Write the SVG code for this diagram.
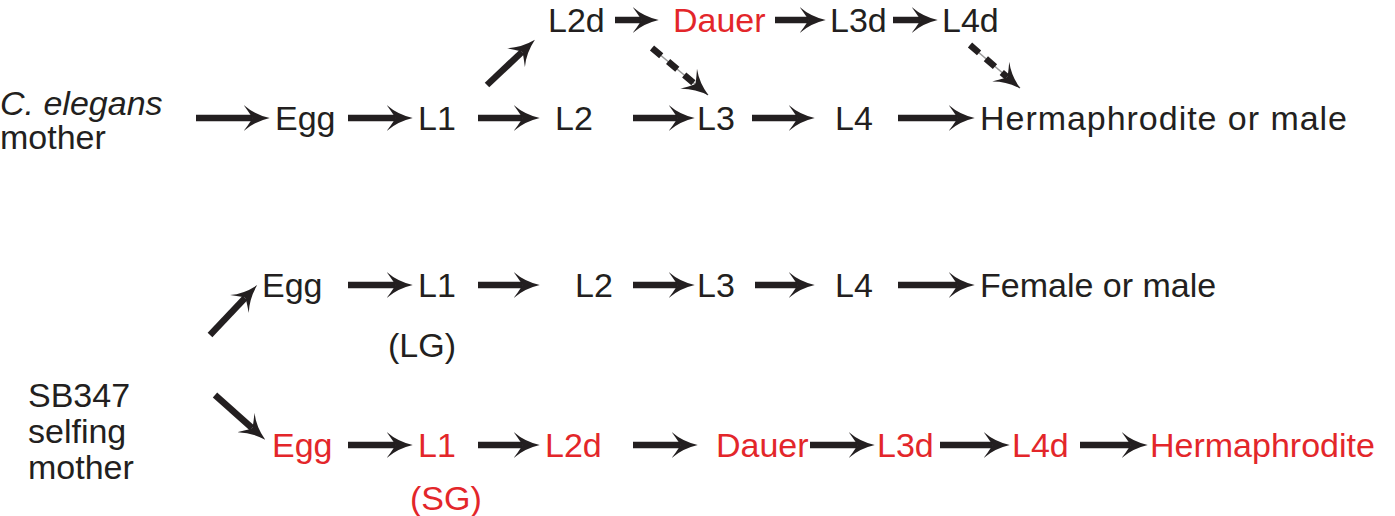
<svg xmlns="http://www.w3.org/2000/svg" width="1395" height="516" viewBox="0 0 1395 516">
<style>
text{font-family:"Liberation Sans",Arial,sans-serif;font-size:34px;fill:#231f20}
.r{fill:#e3262a}
.a{stroke:#231f20;stroke-width:6.5;fill:none;marker-end:url(#h)}
.d{stroke:#231f20;stroke-width:6.5;stroke-dasharray:12 9;fill:none;marker-end:url(#h)}
.t{stroke:#999;stroke-width:1.5}
</style>
<defs><marker id="h" viewBox="0 0 22 22" markerWidth="26" markerHeight="26" markerUnits="userSpaceOnUse" refX="7" refY="11" orient="auto"><path d="M0,0 Q9,8 22,11 Q9,14 0,22 Q8,11 7,11 Q8,11 0,0z" fill="#231f20"/></marker></defs>
<rect width="1395" height="516" fill="#fff"/>
<g id="nodes">
<g id="cel"><text x="0" y="115" font-style="italic">C. elegans</text><text x="0" y="149">mother</text></g>
<g id="egg1"><text x="275" y="130">Egg</text></g>
<g id="l1a"><text x="418" y="130">L1</text></g>
<g id="l2a"><text x="555" y="130">L2</text></g>
<g id="l3a"><text x="697" y="130">L3</text></g>
<g id="l4a"><text x="835" y="130">L4</text></g>
<g id="herm1"><text x="980" y="130" textLength="367">Hermaphrodite or male</text></g>
<g id="l2d1"><text x="548" y="32">L2d</text></g>
<g id="dauer1"><text x="673" y="32" class="r">Dauer</text></g>
<g id="l3d1"><text x="830" y="32">L3d</text></g>
<g id="l4d1"><text x="942" y="32">L4d</text></g>
<g id="sb"><text x="28" y="407">SB347</text><text x="28" y="443">selfing</text><text x="28" y="479">mother</text></g>
<g id="egg2"><text x="262" y="297">Egg</text></g>
<g id="l1b"><text x="418" y="297">L1</text><text x="388" y="357">(LG)</text></g>
<g id="l2b"><text x="575" y="297">L2</text></g>
<g id="l3b"><text x="697" y="297">L3</text></g>
<g id="l4b"><text x="835" y="297">L4</text></g>
<g id="fem"><text x="980" y="297">Female or male</text></g>
<g id="egg3"><text x="272" y="457" class="r">Egg</text></g>
<g id="l1c"><text x="418" y="457" class="r">L1</text><text x="410" y="510" class="r">(SG)</text></g>
<g id="l2dc"><text x="545" y="457" class="r">L2d</text></g>
<g id="dauerc"><text x="716" y="457" class="r">Dauer</text></g>
<g id="l3dc"><text x="877" y="457" class="r">L3d</text></g>
<g id="l4dc"><text x="1012" y="457" class="r">L4d</text></g>
<g id="hermc"><text x="1150" y="457" class="r">Hermaphrodite</text></g>
</g>
<g id="connectors">
<line class="a" x1="196" y1="118" x2="252" y2="118"/>
<line class="a" x1="348" y1="118" x2="395" y2="118"/>
<line class="a" x1="478" y1="118" x2="522" y2="118"/>
<line class="a" x1="633" y1="118" x2="677" y2="118"/>
<line class="a" x1="752" y1="118" x2="797" y2="118"/>
<line class="a" x1="898" y1="118" x2="957" y2="118"/>
<line class="a" x1="487" y1="85" x2="522" y2="52"/>
<line class="a" x1="615" y1="20" x2="641" y2="20"/>
<line class="a" x1="775" y1="20" x2="808" y2="20"/>
<line class="a" x1="893" y1="20" x2="920" y2="20"/>
<line class="t" x1="652" y1="48" x2="708" y2="95"/>
<line class="d" x1="652" y1="48" x2="695" y2="84"/>
<line class="t" x1="970" y1="45" x2="1020" y2="88"/>
<line class="d" x1="970" y1="45" x2="1007" y2="77"/>
<line class="a" x1="210" y1="335" x2="245" y2="298"/>
<line class="a" x1="348" y1="285" x2="395" y2="285"/>
<line class="a" x1="478" y1="285" x2="522" y2="285"/>
<line class="a" x1="633" y1="285" x2="677" y2="285"/>
<line class="a" x1="755" y1="285" x2="797" y2="285"/>
<line class="a" x1="898" y1="285" x2="957" y2="285"/>
<line class="a" x1="215" y1="395" x2="252" y2="428"/>
<line class="a" x1="348" y1="445" x2="395" y2="445"/>
<line class="a" x1="478" y1="445" x2="522" y2="445"/>
<line class="a" x1="633" y1="445" x2="680" y2="445"/>
<line class="a" x1="810" y1="445" x2="857" y2="445"/>
<line class="a" x1="940" y1="445" x2="992" y2="445"/>
<line class="a" x1="1080" y1="445" x2="1130" y2="445"/>
</g>
</svg>
